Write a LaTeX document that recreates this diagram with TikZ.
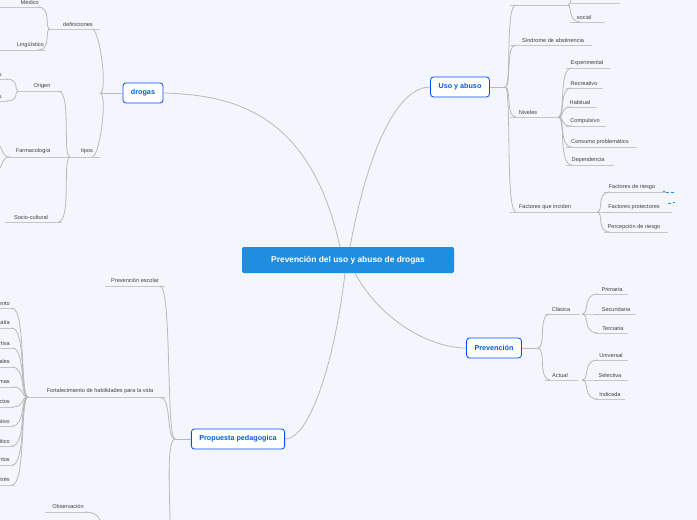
\documentclass[tikz,border=0pt]{standalone}
\usepackage{fontspec}
\setmainfont{Liberation Sans}
\begin{document}
\begin{tikzpicture}[x=1pt,y=-1pt,
 con/.style={draw=gray!55,line width=0.8pt},
 sub/.style={font=\fontsize{5.6}{6.5}\selectfont,text=black!75,inner sep=1pt},
 main/.style={draw=blue!70!cyan,fill=white,rounded corners=3pt,line width=0.8pt,text=blue!60!cyan!90!black,font=\bfseries\fontsize{7.2}{8.5}\selectfont,minimum height=20pt,inner xsep=8pt},
 ul/.style={draw=gray!45,line width=0.6pt}]
\definecolor{bg}{HTML}{F3F6FD}
\definecolor{cblue}{HTML}{1F8EE0}
\fill[bg] (0,0) rectangle (697,520);
\clip (0,0) rectangle (697,520);
\useasboundingbox (0,0) rectangle (697,520);
% central
\node[fill=cblue,rounded corners=2pt,text=white,font=\bfseries\fontsize{8.4}{10}\selectfont,minimum width=212pt,minimum height=26pt] (c) at (348,260) {Prevención del uso y abuso de drogas};
\node[main] (d) at (143,93) {drogas};
\node[main] (u) at (460,87) {Uso y abuso};
\node[main] (p) at (494,348) {Prevención};
\node[main] (pp) at (238,439) {Propuesta pedagogica};
\draw[con] (340,247) .. controls (310,110) and (230,95) .. (d.east);
\draw[con] (350,247) .. controls (370,140) and (400,87) .. (u.west);
\draw[con] (355,273) .. controls (380,320) and (430,348) .. (p.west);
\draw[con] (345,273) .. controls (335,360) and (310,439) .. (pp.east);
% drogas branch
\coordinate (dl) at (100,93);
\draw[con] (d.west) -- (dl);
\node[sub] (def) at (78,24) {definiciones}; \draw[ul] (50,29) -- (100,29);
\node[sub] (tip) at (87,151) {tipos}; \draw[ul] (70,157) -- (100,157);
\draw[con] (dl) .. controls (108,93) and (100,29) .. (92,29);
\draw[con] (dl) .. controls (108,93) and (100,157) .. (92,157);
\node[sub,anchor=east] (med) at (40,2) {Médico}; \draw[ul] (0,7) -- (40,7);
\node[sub,anchor=east] (lin) at (45,45) {Lingüístico}; \draw[ul] (0,50) -- (45,50);
\draw[con] (50,29) .. controls (44,29) and (52,7) .. (38,7);
\draw[con] (50,29) .. controls (44,29) and (52,50) .. (38,50);
\node[sub] (ori) at (42,86) {Origen}; \draw[ul] (18,91) -- (62,91);
\node[sub] (far) at (33,151) {Farmacología}; \draw[ul] (10,157) -- (70,157);
\node[sub] (soc) at (31,217) {Socio-cultural}; \draw[ul] (5,222) -- (62,222);
\draw[con] (70,157) .. controls (62,157) and (72,91) .. (58,91);
\draw[con] (70,157) .. controls (62,157) and (72,222) .. (58,222);
\node[sub,anchor=east] at (3,74) {Naturales}; \draw[ul] (0,79) -- (8,79);
\node[sub,anchor=east] at (3,96) {Sintéticas}; \draw[ul] (0,101) -- (8,101);
\draw[con] (18,91) .. controls (14,91) and (20,79) .. (6,79);
\draw[con] (18,91) .. controls (14,91) and (20,101) .. (6,101);
\draw[con] (10,157) .. controls (2,157) and (3,150) .. (0,146);
\draw[con] (10,157) .. controls (2,157) and (3,164) .. (0,168);
% Uso y abuso branch
\coordinate (ul0) at (505,87);
\draw[con] (u.east) -- (ul0);
\draw[ul] (510,5) -- (560,5);
\node[sub] (sin) at (553,40) {Síndrome de abstinencia}; \draw[ul] (510,45) -- (592,45);
\node[sub] (niv) at (528,112) {Niveles}; \draw[ul] (510,117) -- (553,117);
\node[sub] (fac) at (545,207) {Factores que inciden}; \draw[ul] (510,212) -- (590,212);
\foreach \yy in {5,45,117,212} \draw[con] (ul0) .. controls (512,87) and (505,\yy) .. (516,\yy);
\draw[ul] (560,5) -- (570,5);
\draw[ul] (570,3) -- (620,3);
\node[sub] (sc) at (584,17) {social}; \draw[ul] (570,22) -- (605,22);
\draw[con] (568,5) .. controls (572,5) and (568,22) .. (580,22);
\draw[con] (568,5) .. controls (572,5) and (568,-5) .. (580,-8);
\draw[ul] (553,117) -- (560,117);
\foreach \t/\x/\y/\e in {Experimental/587/63/610,Recreativo/584/83/603,Habitual/580/102/597,Compulsivo/585/121/606,Consumo problemático/600/142/637,Dependencia/588/160/614}{
 \node[sub] at (\x,\y) {\t}; \draw[ul] (566,\y+5) -- (\e,\y+5);
 \draw[con] (558,117) .. controls (566,117) and (558,\y+5) .. (572,\y+5);}
\draw[ul] (590,212) -- (600,212);
\foreach \t/\x/\y/\e in {Factores de riesgo/632/187/668,Factores protectores/634/207/672,Percepción de riesgo/634/227/668}{
 \node[sub] at (\x,\y) {\t}; \draw[ul] (604,\y+5) -- (\e,\y+5);
 \draw[con] (597,212) .. controls (604,212) and (596,\y+5) .. (610,\y+5);}
\draw[cblue,line width=0.6pt] (663,191)--(665,191) (666,192)--(669,192) (671,192)--(674,192) (668,203)--(671,203) (673,202)--(675,202);
% Prevención
\coordinate (pl) at (538,348);
\draw[con] (p.east) -- (pl);
\node[sub] at (561,309) {Clásica}; \draw[ul] (545,314) -- (580,314);
\node[sub] at (560,375) {Actual}; \draw[ul] (545,380) -- (578,380);
\foreach \yy in {314,380} \draw[con] (pl) .. controls (546,348) and (538,\yy) .. (550,\yy);
\foreach \t/\x/\y/\e/\s in {Primaria/612/289/628/314,Secundaria/616/309/636/314,Terciaria/613/328/628/314,Universal/611/355/628/380,Selectiva/610/375/628/380,Indicada/610/394/625/380}{
 \node[sub] at (\x,\y) {\t}; \draw[ul] (595,\y+5) -- (\e,\y+5);
 \draw[con] (582,\s) .. controls (590,\s) and (582,\y+5) .. (598,\y+5);}
% Propuesta
\coordinate (pq) at (175,439);
\draw[con] (pp.west) -- (pq);
\node[sub] at (135,280) {Prevención escolar}; \draw[ul] (105,286) -- (165,286);
\node[sub] at (100,391) {Fortalecimiento de habilidades para la vida}; \draw[ul] (35,397) -- (165,397);
\draw[con] (pq) .. controls (166,439) and (172,286) .. (160,286);
\draw[con] (pq) .. controls (166,439) and (172,397) .. (160,397);
\draw[con] (pq) .. controls (166,439) and (170,500) .. (170,520);
\node[sub] at (68,506) {Observación}; \draw[ul] (45,512) -- (88,512);
\draw[con] (85,512) .. controls (95,512) and (98,516) .. (100,520);
\draw[ul] (28,397) -- (35,397);
\foreach \t/\y in {Autoconocimiento/303,Empatía/323,Comunicación asertiva/343,Relaciones interpersonales/362,Solución de problemas/382,Toma de decisiones y efectos/402,Pensamiento creativo/421,Pensamiento crítico/441,Manejo de sentimientos/460,Manejo del estrés/480}{
 \node[sub,anchor=east] at (11,\y) {\t}; \draw[ul] (0,\y+5) -- (14,\y+5);
 \draw[con] (28,397) .. controls (20,397) and (26,\y+5) .. (12,\y+5);}
\end{tikzpicture}
\end{document}
